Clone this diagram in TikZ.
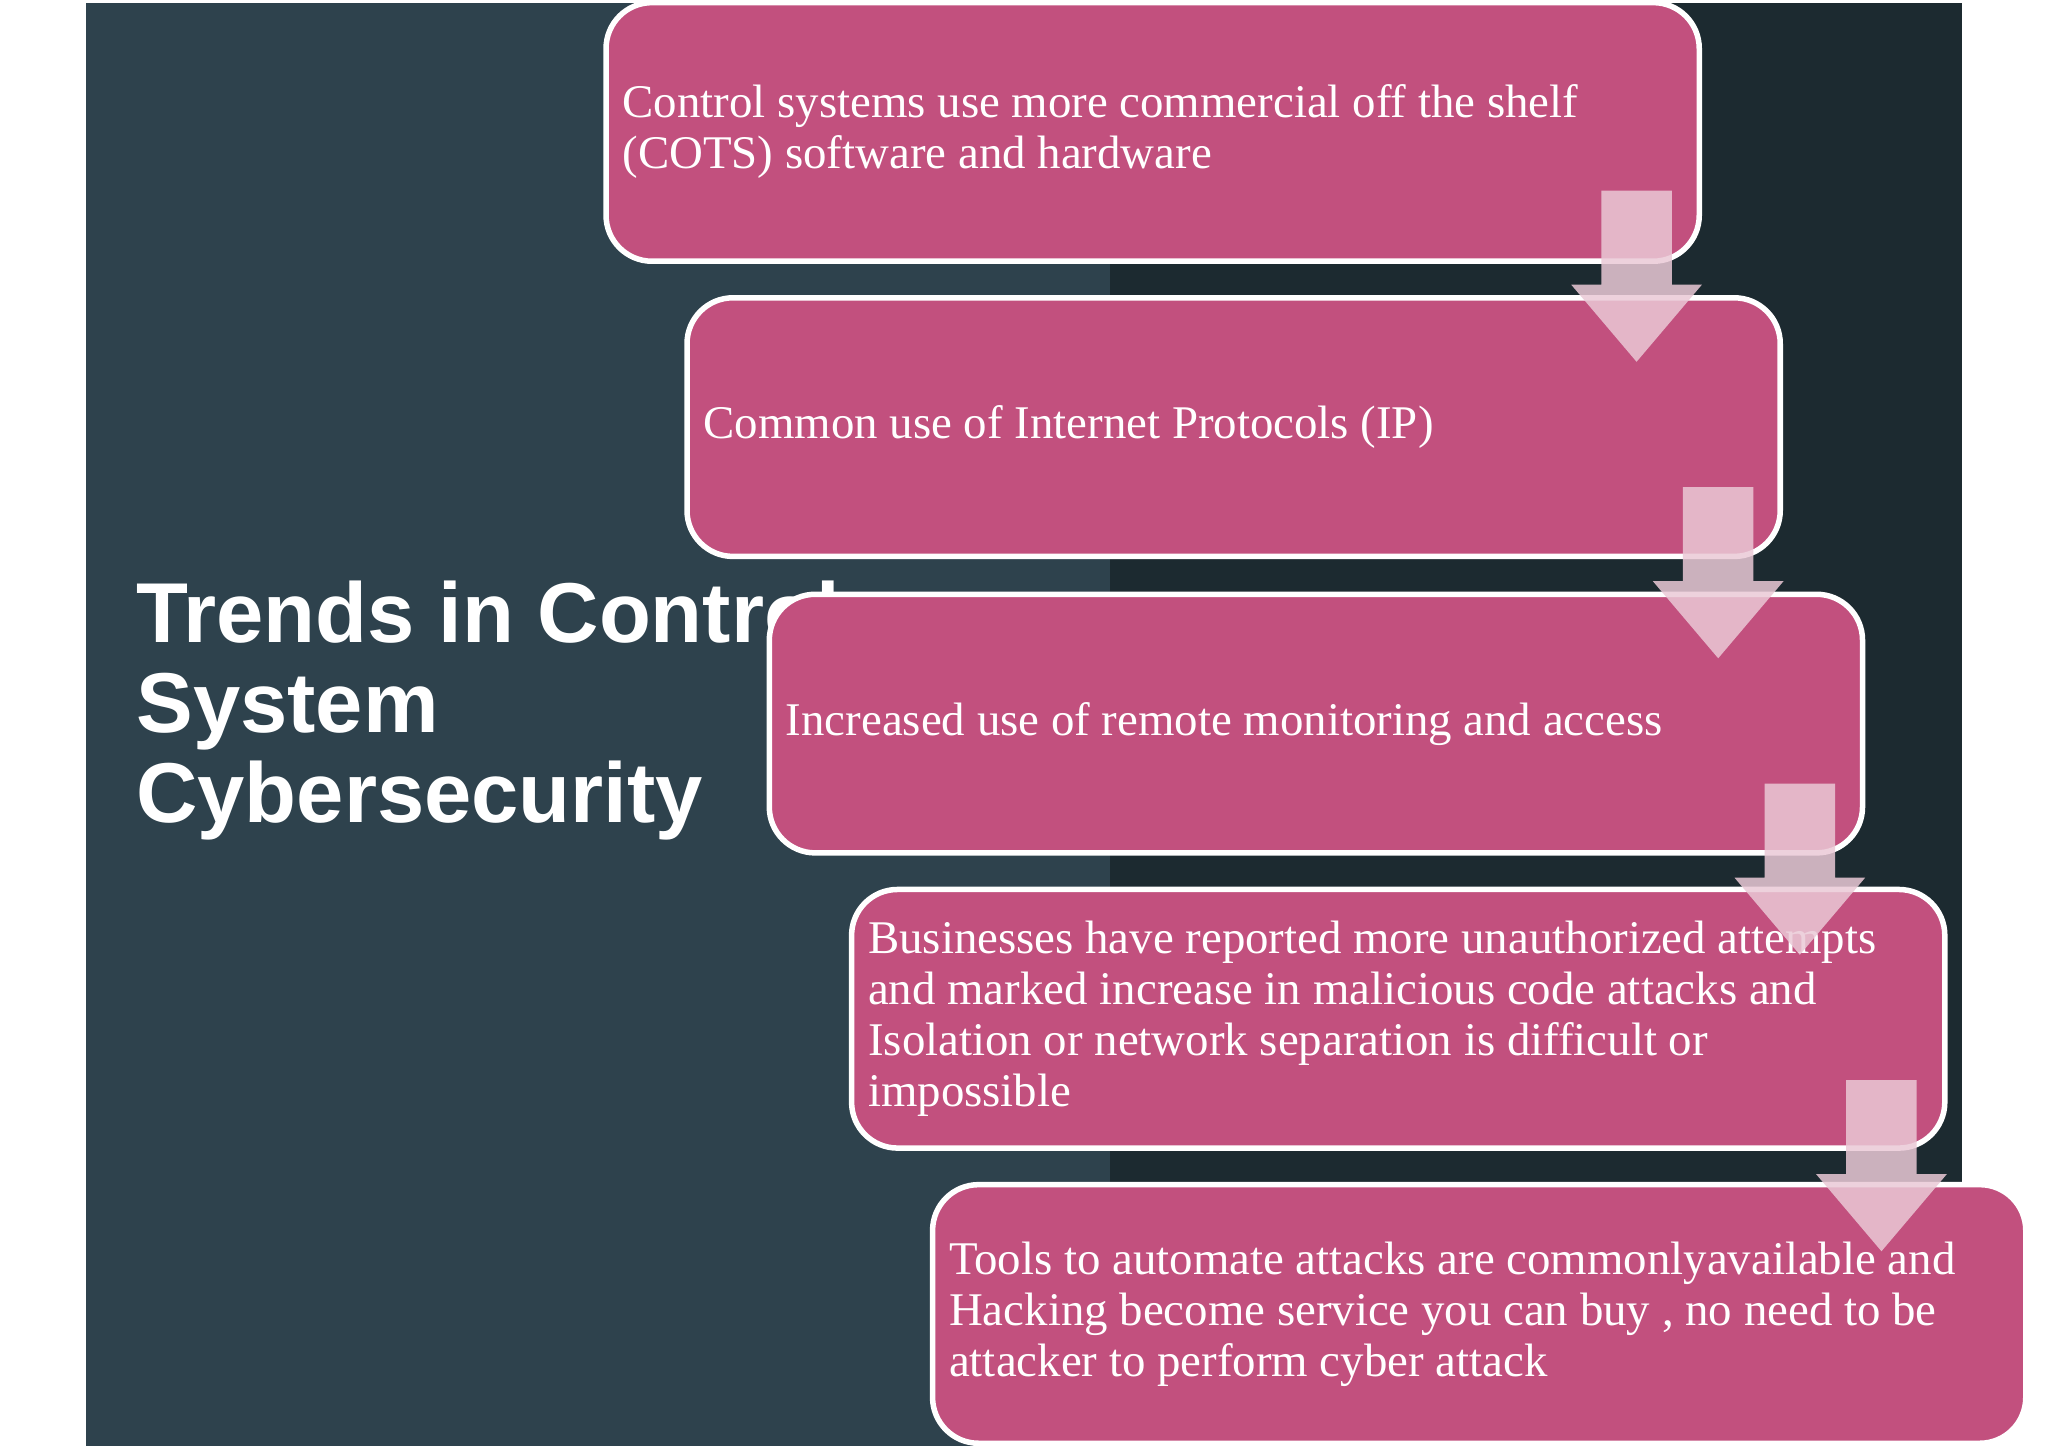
\documentclass[tikz,border=0pt]{standalone}
\usepackage{fontspec}
\setmainfont{Liberation Serif}
\setsansfont{Liberation Sans}
\begin{document}
\begin{tikzpicture}[x=0.01cm,y=-0.01cm,
  box/.style={draw=white,line width=1.2pt,fill=boxpink,rounded corners=10pt,anchor=north west,
    inner xsep=12pt*0.01/0.0352,align=left,font=\fontsize{10.5}{13.2}\selectfont,text=white},
  dnarrow/.style={fill=arrowpink,fill opacity=0.82,draw=none}]
\definecolor{boxpink}{HTML}{C2507E}
\definecolor{arrowpink}{HTML}{EAC9D6}
\definecolor{darkA}{HTML}{2E424D}
\definecolor{darkB}{HTML}{1C2A30}
\useasboundingbox (0,0) rectangle (1568,1109);
\fill[white] (0,0) rectangle (1568,1109);
\fill[darkA] (66,2) rectangle (1502,1107);
\fill[darkB] (850,2) rectangle (1502,1107);
\node[anchor=north west,align=left,text=white,font=\sffamily\bfseries\fontsize{18.5}{19.6}\selectfont] (title) at (92,432)
  {Trends in Control\\System\\Cybersecurity};
\foreach \i/\x/\y/\t in {
  1/464/2/{Control systems use more commercial off the shelf\\(COTS) software and hardware},
  2/526/228/{Common use of Internet Protocols (IP)},
  3/589/455/{Increased use of remote monitoring and access},
  4/652/681/{Businesses have reported more unauthorized attempts\\and marked increase in malicious code attacks and\\Isolation or network separation is difficult or\\impossible},
  5/714/907/{Tools to automate attacks are commonlyavailable and\\Hacking become service you can buy , no need to be\\attacker to perform cyber attack}}
{
  \fill[boxpink,rounded corners=10pt] (\x,\y) rectangle ++(837,198);
  \draw[white,line width=1.2pt,rounded corners=10pt] (\x,\y) rectangle ++(837,198);
  \node[anchor=west,align=left,text=white,inner sep=0pt,font=\fontsize{10.2}{11.1}\selectfont] (b\i) at (\x+12,\y+99) {\t};
}
\foreach \j in {0,...,3}{
  \fill[arrowpink,fill opacity=0.85] ({1226+62.5*\j},{146+227*\j}) -- ++(54,0) -- ++(0,72) -- ++(23,0)
     -- ++(-50,59) -- ++(-50,-59) -- ++(23,0) -- cycle;
}
\end{tikzpicture}
\end{document}
